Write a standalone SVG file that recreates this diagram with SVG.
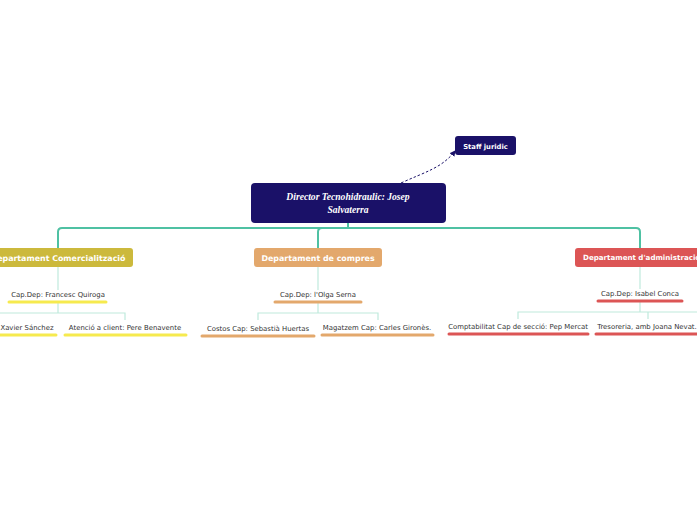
<svg xmlns="http://www.w3.org/2000/svg" width="697" height="520" viewBox="0 0 697 520">
<defs>
<style>
.main{fill:none;stroke:#4fc1a3;stroke-width:2}
.sub{fill:none;stroke:#bfeadc;stroke-width:1.2}
.t{font-family:"DejaVu Sans",Verdana,sans-serif;font-size:6.9px;fill:#333;text-anchor:middle}
.dt{font-family:"DejaVu Sans",Verdana,sans-serif;font-size:7.9px;font-weight:bold;fill:#fff;text-anchor:middle}
.ul{stroke-width:3;stroke-linecap:round;fill:none}
</style>
<marker id="ah" markerWidth="6" markerHeight="6" refX="5" refY="3" orient="auto" markerUnits="userSpaceOnUse">
<path d="M0,0 L6,3 L0,6 Z" fill="#1a1168"/>
</marker>
</defs>
<rect width="697" height="520" fill="#fff"/>
<g id="connectors">
<path class="main" d="M348,223 V228 H62 Q58,228 58,232 V248"/>
<path class="main" d="M348,228 H322 Q318,228 318,232 V248"/>
<path class="main" d="M348,228 H636 Q640,228 640,232 V248"/>
<path class="sub" d="M58,267 V290"/>
<path class="sub" d="M318,267 V290"/>
<path class="sub" d="M640,267 V289"/>
<path class="sub" d="M58,302 V313 M0,313 H125 V320"/>
<path class="sub" d="M318,302 V313 M258,320 V313 H378 V320"/>
<path class="sub" d="M640,301 V312 M518,319 V312 H697 M648,312 V319"/>
<path d="M401,183 C425,172 442,168 455,151" fill="none" stroke="#1a1168" stroke-width="1" stroke-dasharray="2.5,2" marker-end="url(#ah)"/>
</g>
<g id="root">
<rect x="251" y="183" width="195" height="40" rx="4" fill="#1a1168"/>
<text x="348" y="200" font-family="'Liberation Serif',serif" font-style="italic" font-weight="bold" font-size="9.6" fill="#fff" text-anchor="middle">Director Tecnohidraulic: Josep</text>
<text x="348" y="213" font-family="'Liberation Serif',serif" font-style="italic" font-weight="bold" font-size="9.6" fill="#fff" text-anchor="middle">Salvaterra</text>
</g>
<g id="staff">
<rect x="455" y="136" width="61" height="19" rx="3" fill="#1a1168"/>
<text x="485.5" y="148.5" font-family="'DejaVu Sans',sans-serif" font-weight="bold" font-size="6.8" fill="#fff" text-anchor="middle">Staff juridic</text>
</g>
<g id="dept-comercial">
<rect x="-17" y="248" width="150" height="19" rx="3" fill="#ccb93c"/>
<text class="dt" x="58" y="260.5">Departament Comercialització</text>
</g>
<g id="dept-compres">
<rect x="254" y="248" width="128" height="19" rx="3" fill="#e3a86c"/>
<text class="dt" x="318" y="260.5">Departament de compres</text>
</g>
<g id="dept-admin">
<rect x="575" y="248" width="132" height="19" rx="3" fill="#dc5555"/>
<text class="dt" x="583" y="260" style="font-size:7.1px;text-anchor:start">Departament d'administració</text>
</g>
<g id="cap-comercial">
<text class="t" x="58" y="297">Cap.Dep: Francesc Quiroga</text>
<path class="ul" stroke="#f6ea4e" d="M9,302 H106"/>
</g>
<g id="cap-compres">
<text class="t" x="318" y="297">Cap.Dep: l'Olga Serna</text>
<path class="ul" stroke="#e3a86c" d="M275,302 H361"/>
</g>
<g id="cap-admin">
<text class="t" x="640" y="296">Cap.Dep:  Isabel Conca</text>
<path class="ul" stroke="#dc5555" d="M598,301 H682"/>
</g>
<g id="xavier">
<text class="t" x="27" y="330">Xavier Sánchez</text>
<path class="ul" stroke="#f6ea4e" d="M0,335 H56"/>
</g>
<g id="atencio">
<text class="t" x="125" y="330">Atenció a client: Pere Benavente</text>
<path class="ul" stroke="#f6ea4e" d="M65,335 H186"/>
</g>
<g id="costos">
<text class="t" x="258" y="331">Costos Cap: Sebastià Huertas</text>
<path class="ul" stroke="#e3a86c" d="M202,336 H314"/>
</g>
<g id="magatzem">
<text class="t" x="377" y="330">Magatzem Cap: Carles Gironès.</text>
<path class="ul" stroke="#e3a86c" d="M322,335 H433"/>
</g>
<g id="comptabilitat">
<text class="t" x="518" y="329">Comptabilitat Cap de secció: Pep Mercat</text>
<path class="ul" stroke="#dc5555" d="M449,334 H588"/>
</g>
<g id="tresoreria">
<text class="t" x="647" y="329">Tresoreria, amb Joana Nevat.</text>
<path class="ul" stroke="#dc5555" d="M596,334 H700"/>
</g>
</svg>
